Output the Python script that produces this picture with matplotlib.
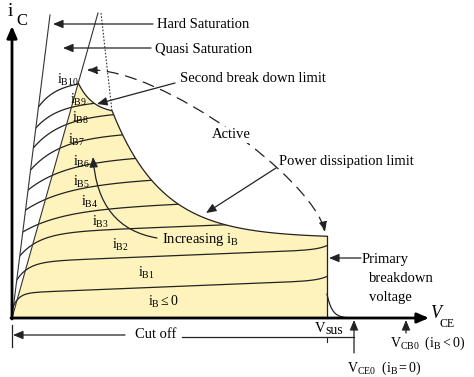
import numpy as np
import matplotlib
matplotlib.use('Agg')
import matplotlib.pyplot as plt
from matplotlib.patches import Polygon, FancyArrowPatch
from matplotlib.path import Path

plt.rcParams['font.family'] = ['Liberation Serif', 'DejaVu Serif']
plt.rcParams['mathtext.fontset'] = 'custom'
plt.rcParams['mathtext.rm'] = 'Liberation Serif'
plt.rcParams['mathtext.it'] = 'Liberation Serif:italic'
plt.rcParams['mathtext.bf'] = 'Liberation Serif:bold'

# i_B curve family (diagram units: V_CE to the right, i_C up)
ib_names = ['B1', 'B2', 'B3', 'B4', 'B5', 'B6', 'B7', 'B8', 'B9', 'B10']
ib_start = [12, 38, 62, 86, 108, 128, 148, 170, 190, 211]     # i_C where curve leaves hard-sat line
ib_plateau = [25, 56, 85, 108, 134, 157, 181, 202, 214, 235]
ib_knee = [6, 12, 20, 40, 42, 38, 30, 28, 22, 18]
ib_turnup = [4, 4, 0, 0, 0, 0, 0, 0, 0, 0]                      # avalanche rise near V_sus
ib_slope = 0.04

# saturation lines (top points)
hard_top = (38, 303)
quasi_top = (86, 305)
dotted_top = (89, 305)

# second breakdown / power dissipation limits
sb_top, sb_floor, sb_scale = 235, 204, 15
pd_floor, pd_height, pd_start, pd_scale = 80, 125, 101, 50

# voltages on the V_CE axis
v_sus = 315
v_ce0 = 342
v_cb0 = 394
tail_height, tail_scale = 24, 5


def boundary(u):
    sb = sb_floor + (sb_top - sb_floor) * np.exp(-(u - u_j) / sb_scale)
    pd = pd_floor + pd_height * np.exp(-(u - pd_start) / pd_scale)
    return np.minimum(sb, pd)


fig = plt.figure(figsize=(4.74, 3.77), dpi=100)
ax = fig.add_axes([0, 0, 1, 1])
ax.set_xlim(-12, 462)
ax.set_ylim(-59, 318)
ax.axis('off')

u_j = sb_top * quasi_top[0] / quasi_top[1]
ub = np.linspace(u_j, v_sus, 400)
hb = boundary(ub)
edge = list(zip(ub, hb))

# safe operating area
ax.add_patch(Polygon([(0, 0), (u_j, sb_top)] + edge + [(v_sus, 0)],
                     closed=True, fc='#fef3bd', ec='none', zorder=1))

clip = Polygon([(0, 0), hard_top, quasi_top, (u_j, sb_top)] + edge + [(v_sus, 0)],
               closed=True, fc='none', ec='none', transform=ax.transData)
ax.add_patch(clip)

hard_slope = hard_top[1] / hard_top[0]
for h0, hp, tau, up in zip(ib_start, ib_plateau, ib_knee, ib_turnup):
    u0 = h0 / hard_slope
    u = np.linspace(u0, v_sus, 500)
    h = hp - (hp - h0) * np.exp(-(u - u0) / tau) + ib_slope * (u - u0) \
        + up * np.exp((u - v_sus) / 10)
    line, = ax.plot(u, h, color='#222222', lw=0.9, zorder=2)
    line.set_clip_path(clip)

# limits
ax.plot(ub, hb, color='#222222', lw=0.9, zorder=3)
ax.plot([v_sus, v_sus], [0, boundary(v_sus)], color='#222222', lw=0.9, zorder=3)
ut = np.linspace(v_sus, v_ce0 - 2, 100)
ax.plot(ut, tail_height * np.exp(-(ut - v_sus) / tail_scale), color='#222222', lw=0.9, zorder=3)

ax.plot([0, hard_top[0]], [0, hard_top[1]], color='#333333', lw=0.8, zorder=3)
ax.plot([0, quasi_top[0]], [0, quasi_top[1]], color='#333333', lw=0.8, zorder=3)
sb_curve = sb_floor + (sb_top - sb_floor) * np.exp(-(ub - u_j) / sb_scale)
pd_curve = pd_floor + pd_height * np.exp(-(ub - pd_start) / pd_scale)
ix = np.argmin(np.abs(sb_curve - pd_curve))
ax.plot([dotted_top[0], ub[ix]], [dotted_top[1], hb[ix]], color='#333333',
        lw=0.8, ls=(0, (1.5, 1.5)), zorder=3)

# axes
ax.annotate('', xy=(0, 292), xytext=(0, -1),
            arrowprops=dict(arrowstyle='-|>,head_length=0.7,head_width=0.3',
                            lw=2, color='black', mutation_scale=10, shrinkA=0, shrinkB=0), zorder=5)
ax.annotate('', xy=(417, 0), xytext=(-1, 0),
            arrowprops=dict(arrowstyle='-|>,head_length=0.7,head_width=0.3',
                            lw=2, color='black', mutation_scale=10, shrinkA=0, shrinkB=0), zorder=5)
ax.text(-4, 306, 'i', fontsize=14, ha='left', va='center')
ax.text(4, 297, 'C', fontsize=12, ha='left', va='center')
ax.text(418, 5, 'V', fontsize=13, style='italic', ha='left', va='center')
ax.text(428, -6, 'CE', fontsize=8.5, ha='left', va='center')

arrow = dict(arrowstyle='-|>,head_length=0.6,head_width=0.25', lw=0.9,
             color='#222222', mutation_scale=10, shrinkA=0, shrinkB=0)
fs = 10.5


def label(text, xy, tip, xytext):
    ax.annotate('', xy=tip, xytext=xytext, arrowprops=arrow, zorder=4)
    ax.text(xy[0], xy[1], text, fontsize=fs, ha='left', va='center', zorder=6)


label('Hard Saturation', (145, 294), (41, 294), (141, 294))
label('Quasi Saturation', (143, 269), (51, 270), (139, 270))
label('Second break down limit', (168, 239), (85, 214), (163, 235))
label('Power dissipation limit', (267, 156), (194, 105), (264, 150))
label('Primary', (350, 58), (317, 60), (349, 60))
ax.text(357, 39, 'breakdown', fontsize=fs, ha='left', va='center')
ax.text(357, 21, 'voltage', fontsize=fs, ha='left', va='center')
ax.text(200, 183, 'Active', fontsize=fs, ha='left', va='center', zorder=6,
        bbox=dict(fc='white', ec='none', pad=1))

# dashed active-region arc
active = Path([(75, 248), (150, 250), (300, 140), (313, 86)],
              [Path.MOVETO, Path.CURVE4, Path.CURVE4, Path.CURVE4])
ax.add_patch(FancyArrowPatch(path=active, arrowstyle='<|-|>,head_length=0.6,head_width=0.25',
                             mutation_scale=10, lw=0.9, color='#222222',
                             ls=(0, (9, 6)), zorder=3))

# increasing i_B
inc = Path([(145, 80), (86, 90), (81, 161)], [Path.MOVETO, Path.CURVE3, Path.CURVE3])
ax.add_patch(FancyArrowPatch(path=inc, arrowstyle='-|>,head_length=0.6,head_width=0.25',
                             mutation_scale=10, lw=0.9, color='#222222', zorder=4))
ax.text(150, 78, r'Increasing $\mathrm{i}_{\mathrm{B}}$', fontsize=fs,
        ha='left', va='center', zorder=6)

# i_B labels
lab_pos = [(126, 45), (100, 73), (80, 96), (69, 116), (61, 136),
           (61, 156), (56, 178), (60, 200), (58, 218), (45, 238)]
for name, (x, y) in zip(ib_names, lab_pos):
    ax.text(x, y, r'$\mathrm{i}_{\mathrm{%s}}$' % name, fontsize=10,
            ha='left', va='center', zorder=6)
ax.text(136, 16, r'$\mathrm{i}_{\mathrm{B}}\leq 0$', fontsize=10,
        ha='left', va='center', zorder=6)

# below the axis
ax.plot([0, 0], [-7, -29], color='#222222', lw=0.9)
ax.annotate('', xy=(1, -17), xytext=(113, -17), arrowprops=arrow)
ax.text(143.5, -17, 'Cut off', fontsize=fs, ha='center', va='center')
ax.plot([170, v_ce0], [-19, -19], color='#222222', lw=0.9)
ax.plot([v_sus, v_sus], [-19, -24], color='#222222', lw=0.8)
ax.text(303, -10, 'V', fontsize=fs, ha='left', va='center')
ax.text(313.5, -13, 'sus', fontsize=10, ha='left', va='center')

ax.annotate('', xy=(v_ce0, -2), xytext=(v_ce0, -35), arrowprops=arrow)
ax.text(335, -50, r'$\mathrm{V}_{\mathrm{CE0}}\ \ (\mathrm{i}_{\mathrm{B}} = 0)$',
        fontsize=10, ha='left', va='center')
ax.annotate('', xy=(v_cb0, -2), xytext=(v_cb0, -15), arrowprops=arrow)
ax.text(378, -25, r'$\mathrm{V}_{\mathrm{CB0}}\ \ (\mathrm{i}_{\mathrm{B}} < 0)$',
        fontsize=10, ha='left', va='center')

fig.savefig('out.png', dpi=100)
